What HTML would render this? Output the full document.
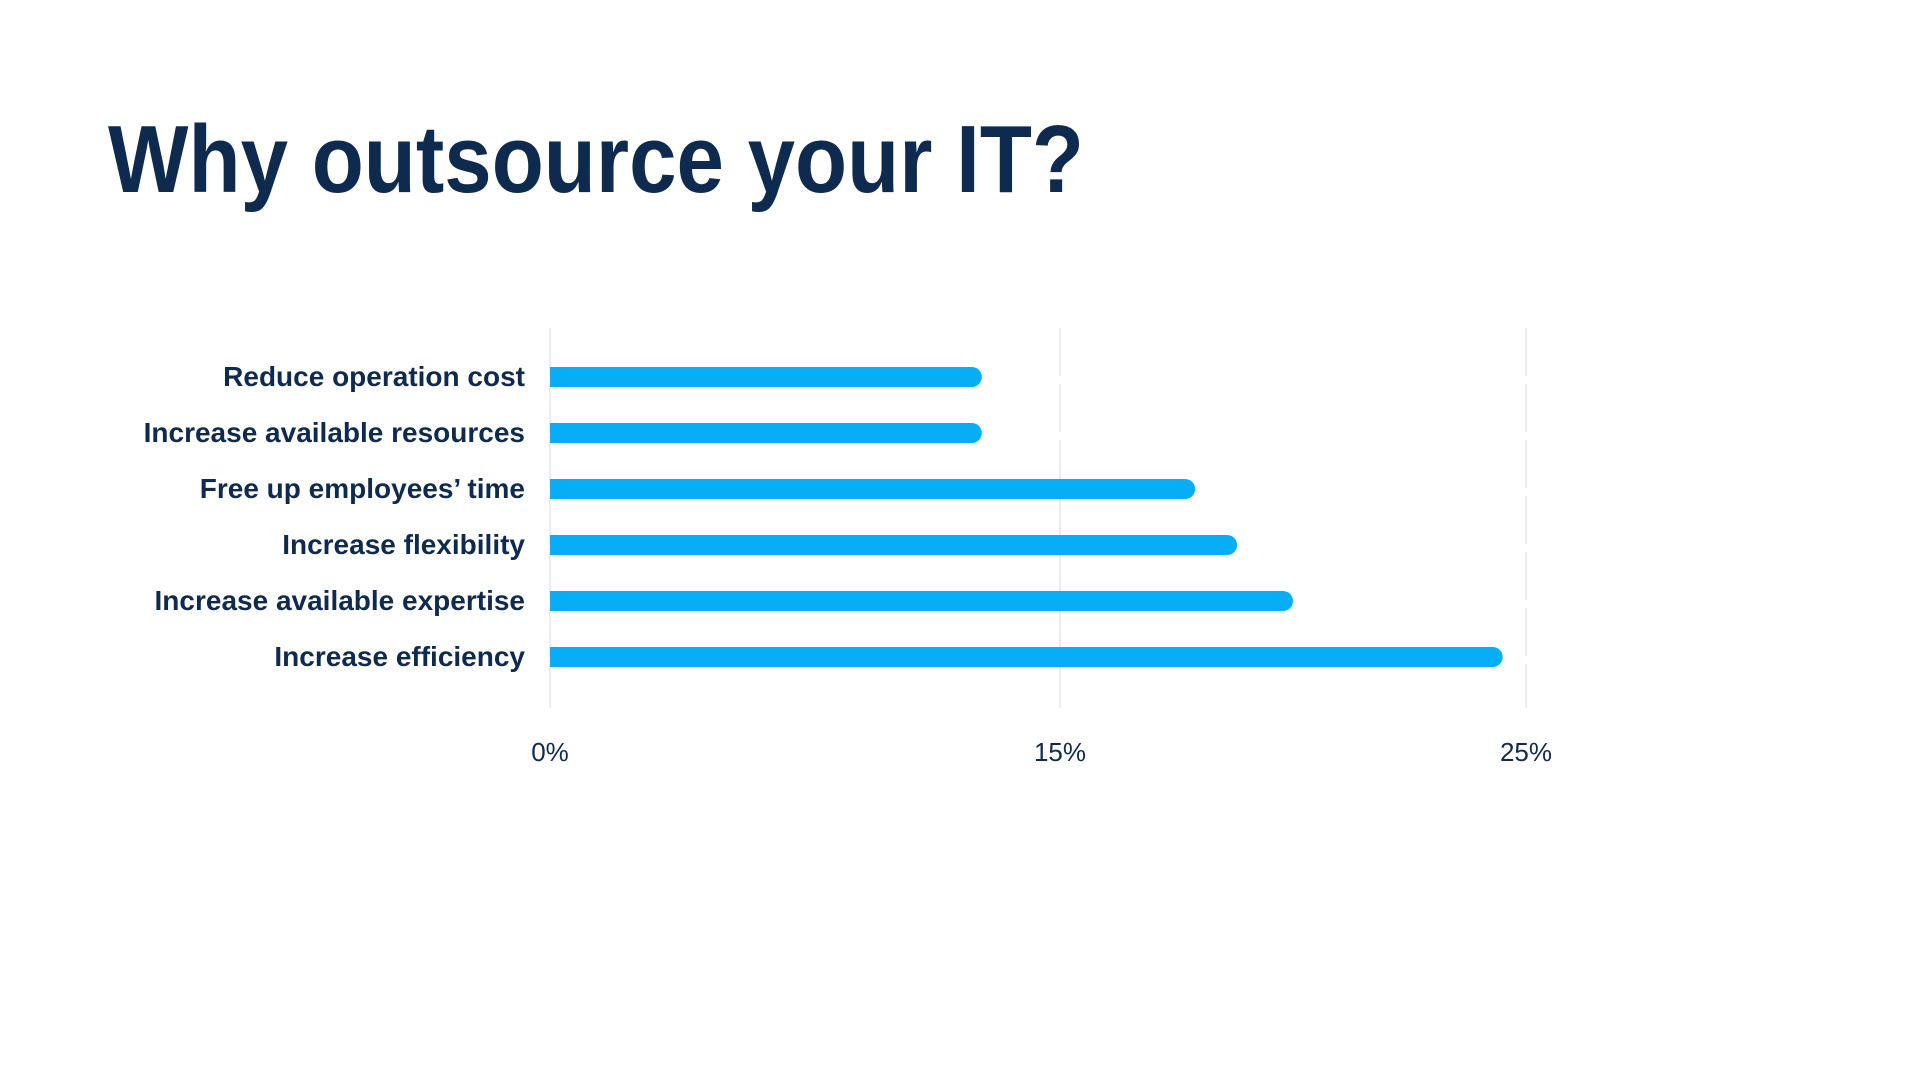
<!DOCTYPE html>
<html><head><meta charset="utf-8"><style>
html,body{margin:0;padding:0;background:#fff;}
svg{display:block;font-family:"Liberation Sans",sans-serif;}
</style></head><body>
<svg id="chart" width="1920" height="1080" viewBox="0 0 1920 1080">
<text x="108" y="192" font-size="96" font-weight="bold" fill="#0f2a4f" textLength="976" lengthAdjust="spacingAndGlyphs">Why outsource your IT?</text>
<g id="grid"></g><g id="bars"></g><g id="labels"></g><g id="ticks"></g>
</svg>
<script>
const categories = ["Reduce operation cost","Increase available resources","Free up employees’ time","Increase flexibility","Increase available expertise","Increase efficiency"];
const values = [12.7, 12.7, 17.9, 18.8, 20.0, 24.5];
const tickValues = [0, 15, 25];
const tickLabels = ["0%", "15%", "25%"];
const NS = "http://www.w3.org/2000/svg";
const xDomain = [0, 15, 25], xRange = [550, 1060, 1526];
function x(v){
  for(let i=0;i<xDomain.length-1;i++){
    if(v<=xDomain[i+1]||i===xDomain.length-2){
      return xRange[i]+(v-xDomain[i])/(xDomain[i+1]-xDomain[i])*(xRange[i+1]-xRange[i]);
    }
  }
}
const top0 = 377, step = 56;
function y(i){ return top0 + i*step; }
function mk(tag, attrs, parent){ const e=document.createElementNS(NS,tag); for(const k in attrs)e.setAttribute(k,attrs[k]); document.getElementById(parent).appendChild(e); return e; }
tickValues.forEach((t,i)=>{
  const gx = x(t);
  const l = mk("line",{x1:gx,x2:gx,y1:328,y2:708,stroke:"#e6e8ec","stroke-width":1.5,"stroke-dasharray":"48 8"},"grid");
  
  
  const tx = mk("text",{x:gx,y:761,"text-anchor":"middle","font-size":26,fill:"#0f2a4f"},"ticks");
  tx.textContent = tickLabels[i];
  
  
});
categories.forEach((c,i)=>{
  const cy = y(i), x0 = x(0), x1 = x(values[i]), h = 20;
  const p = mk("path",{d:`M${x0},${cy-h/2} H${x1-h/2} A${h/2},${h/2} 0 0 1 ${x1-h/2},${cy+h/2} H${x0} Z`,fill:"#08aef5"},"bars");
  
  
  const t = mk("text",{x:525,y:cy+9,"text-anchor":"end","font-size":28,"font-weight":"bold",fill:"#0f2a4f"},"labels");
  t.textContent = c;
  
  
});
</script>
</body></html>
